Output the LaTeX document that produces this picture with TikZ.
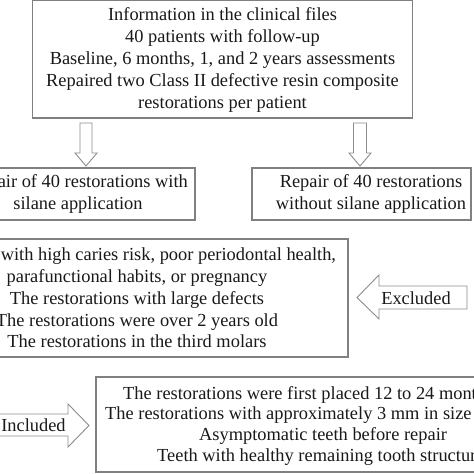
\documentclass[tikz,border=0pt]{standalone}
\usepackage{fontspec}
\setmainfont{Liberation Serif}
\begin{document}
\begin{tikzpicture}[x=1pt,y=-1pt,
  box/.style={draw=boxgray,line width=1.4pt},
  blockarrow/.style={draw=arrowgray,line width=0.9pt,fill=white,line join=miter},
  txt/.style={inner sep=0pt,align=center,text=textblack,font=\fontsize{18.4}{21.8}\selectfont},
  lbl/.style={inner sep=0pt,text=textblack,font=\fontsize{18.4}{21.8}\selectfont},
  line/.style={inner sep=0pt,anchor=base west,text=textblack,font=\fontsize{18.4}{21.8}\selectfont}]
\definecolor{boxgray}{RGB}{128,128,128}
\definecolor{arrowgray}{RGB}{140,140,140}
\definecolor{textblack}{RGB}{25,25,25}
\useasboundingbox (0,0) rectangle (474,474);
\clip (0,0) rectangle (474,474);
\fill[white] (0,0) rectangle (474,474);
% boxes
\draw[box] (32.5,0.7) rectangle (412.5,118);
\node[txt] (top) at (222.5,60) {Information in the clinical files\\40 patients with follow-up\\Baseline, 6 months, 1, and 2 years assessments\\Repaired two Class II defective resin composite\\restorations per patient};
\draw[box] (-30,168) rectangle (195,220);
\node[txt] (left) at (78,194) {Repair of 40 restorations with\\silane application};
\draw[box] (252,168) rectangle (471,220);
\node[txt] (right) at (371,194) {Repair of 40 restorations\\without silane application};
\draw[box] (-80,239) rectangle (348,357);
\node[txt] (excl) at (137,298) {Patients with high caries risk, poor periodontal health,\\parafunctional habits, or pregnancy\\The restorations with large defects\\The restorations were over 2 years old\\The restorations in the third molars};
\draw[box] (96,377) rectangle (520,472);
\node[line] (inc1) at (123,399) {The restorations were first placed 12 to 24 months};
\node[line] (inc2) at (105,419.5) {The restorations with approximately 3 mm in size};
\node[line] (inc3) at (199,440) {Asymptomatic teeth before repair};
\node[line] (inc4) at (157,461) {Teeth with healthy remaining tooth structure};
% down arrows
\draw[blockarrow] (80,123) -- (92,123) -- (92,153) -- (97,153) -- (86,166) -- (75,153) -- (80,153) -- cycle;
\draw[blockarrow] (353.5,123) -- (366.5,123) -- (366.5,153) -- (371,153) -- (360,166) -- (349,153) -- (353.5,153) -- cycle;
% excluded arrow
\draw[blockarrow] (467,286) -- (467,309) -- (379,309) -- (379,319) -- (357,297.5) -- (379,275) -- (379,286) -- cycle;
\node[lbl] (exlab) at (416,298) {Excluded};
% included arrow
\draw[blockarrow] (-5,414) -- (68,414) -- (68,404) -- (89,425.5) -- (68,447) -- (68,436) -- (-5,436) -- cycle;
\node[lbl] (inlab) at (33.5,425) {Included};
\end{tikzpicture}
\end{document}
